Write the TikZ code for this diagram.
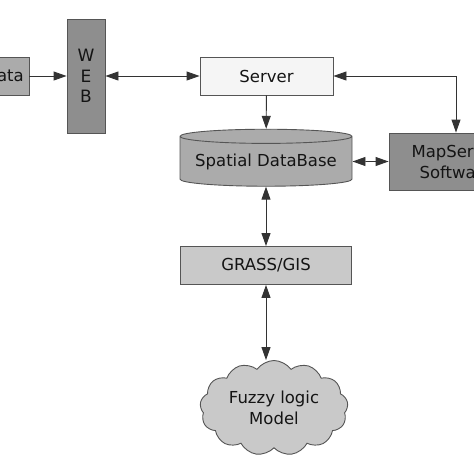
\documentclass[tikz,border=0pt]{standalone}
\usepackage{fontspec}
\setmainfont{DejaVu Sans}
\usepackage{tikz}
\usetikzlibrary{arrows.meta,shapes.geometric,shapes.symbols}
\definecolor{edge}{HTML}{555555}
\definecolor{wire}{HTML}{333333}
\definecolor{dark}{HTML}{8E8E8E}
\definecolor{mid}{HTML}{ABABAB}
\definecolor{light}{HTML}{C9C9C9}
\definecolor{paper}{HTML}{F5F5F5}
\tikzset{
  box/.style={draw=edge, line width=0.9pt, inner sep=0pt, font=\fontsize{16.5}{21}\selectfont, text=black!92},
  link/.style={draw=wire, line width=0.9pt, {Triangle[length=13pt,width=9pt]}-{Triangle[length=13pt,width=9pt]}},
  onelink/.style={draw=wire, line width=0.9pt, -{Triangle[length=13pt,width=9pt]}},
}
\begin{document}
\begin{tikzpicture}[x=1pt, y=-1pt]
  \useasboundingbox (0,0) rectangle (474,474);

  \node[box, fill=mid, minimum width=50pt, minimum height=38pt] (data) at (4,76) {Data};
  \node[box, fill=dark, minimum width=38pt, minimum height=114pt, align=center,
        font=\fontsize{17}{20.5}\selectfont] (web) at (86,76) {W\\E\\B};
  \node[box, fill=paper, minimum width=133pt, minimum height=38pt] (srv) at (266.5,76) {Server};
  \node[box, fill=mid, cylinder, shape border rotate=90, aspect=0.1,
        minimum width=172pt, minimum height=57pt] (db) at (266,161.5) {Spatial DataBase};
  \node[box, fill=dark, minimum width=134pt, minimum height=57pt, align=center] (map) at (456,161.5) {MapServer\\Software};
  \node[box, fill=light, minimum width=171pt, minimum height=38pt] (grass) at (266,265.5) {GRASS/GIS};
  \node[box, fill=light, cloud, cloud puffs=13, cloud puff arc=110, aspect=1.6,
        minimum width=148pt, minimum height=95pt, align=center] (fuzzy) at (274,408) {Fuzzy logic\\Model};

  \draw[onelink] (data) -- (web);
  \draw[link] (web) -- (srv);
  \draw[link] (srv.east) -| (map.north);
  \draw[onelink] (srv) -- (db);
  \draw[link] (db) -- (map);
  \draw[link] (db) -- (grass);
  \draw[link] (grass.south) -- (grass.south |- fuzzy.north);
\end{tikzpicture}
\end{document}
